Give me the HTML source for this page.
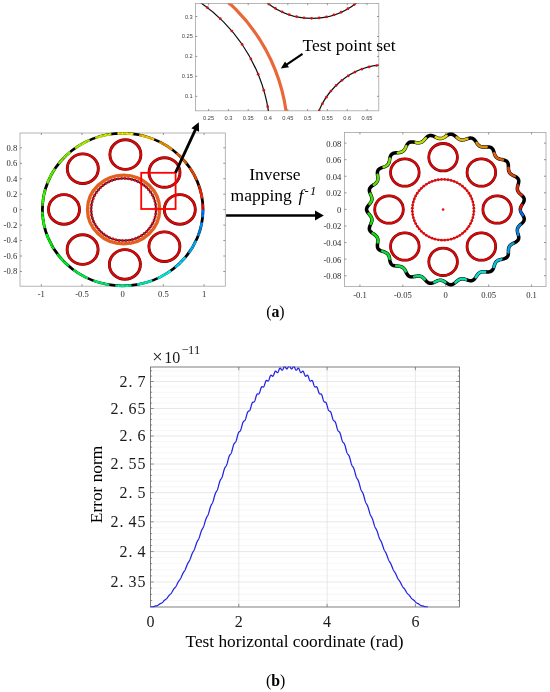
<!DOCTYPE html>
<html lang="en"><head><meta charset="utf-8"><title>Figure</title>
<style>
html,body{margin:0;padding:0;background:#fff;}
body{width:550px;height:692px;overflow:hidden;font-family:"Liberation Serif",serif;}
svg{display:block;}
</style></head><body>
<svg width="550" height="692" viewBox="0 0 550 692">
<rect width="550" height="692" fill="#fff"/>
<g id="left-plot">
<rect x="20" y="133" width="205.3" height="153.2" fill="#fff" stroke="#a4a4a4" stroke-width="0.8"/><path d="M41.3 286.2v-2 M41.3 133v2 M82 286.2v-2 M82 133v2 M122.7 286.2v-2 M122.7 133v2 M163.4 286.2v-2 M163.4 133v2 M204.1 286.2v-2 M204.1 133v2 M20 271.49h2 M225.3 271.49h-2 M20 256.03h2 M225.3 256.03h-2 M20 240.57h2 M225.3 240.57h-2 M20 225.11h2 M225.3 225.11h-2 M20 209.65h2 M225.3 209.65h-2 M20 194.19h2 M225.3 194.19h-2 M20 178.73h2 M225.3 178.73h-2 M20 163.27h2 M225.3 163.27h-2 M20 147.81h2 M225.3 147.81h-2" stroke="#7a7a7a" stroke-width="0.8" fill="none"/>
<g font-family="'Liberation Serif', serif" font-size="8.6" fill="#2a2a2a">
<text x="41.3" y="297.4" text-anchor="middle">-1</text>
<text x="82" y="297.4" text-anchor="middle">-0.5</text>
<text x="122.7" y="297.4" text-anchor="middle">0</text>
<text x="163.4" y="297.4" text-anchor="middle">0.5</text>
<text x="204.1" y="297.4" text-anchor="middle">1</text>
<text x="17.2" y="274.39" text-anchor="end">-0.8</text>
<text x="17.2" y="258.93" text-anchor="end">-0.6</text>
<text x="17.2" y="243.47" text-anchor="end">-0.4</text>
<text x="17.2" y="228.01" text-anchor="end">-0.2</text>
<text x="17.2" y="212.55" text-anchor="end">0</text>
<text x="17.2" y="197.09" text-anchor="end">0.2</text>
<text x="17.2" y="181.63" text-anchor="end">0.4</text>
<text x="17.2" y="166.17" text-anchor="end">0.6</text>
<text x="17.2" y="150.71" text-anchor="end">0.8</text>
</g>
<ellipse cx="122.7" cy="209.65" rx="80.3" ry="76.2" fill="none" stroke="#000" stroke-width="2.8"/>
<path d="M42.43 211.7 L42.49 213.35 L42.6 215.01 L42.74 216.66 L42.92 218.3 L43.14 219.95 L43.39 221.58 L43.68 223.22 L44.01 224.84 L44.38 226.46 L44.78 228.07" fill="none" stroke="#14ff00" stroke-width="2.5" stroke-dasharray="1.15 0.15"/>
<path d="M46.59 233.93 L47.16 235.49 L47.76 237.03 L48.41 238.56 L49.08 240.08 L49.79 241.58 L50.53 243.07 L51.31 244.54 L52.12 245.99 L52.96 247.43 L53.84 248.84" fill="none" stroke="#00ff09" stroke-width="2.5" stroke-dasharray="1.15 0.15"/>
<path d="M57.33 253.91 L58.35 255.23 L59.39 256.52 L60.46 257.8 L61.56 259.05 L62.69 260.28 L63.84 261.48 L65.02 262.66 L66.22 263.81 L67.45 264.94 L68.7 266.04" fill="none" stroke="#00ff26" stroke-width="2.5" stroke-dasharray="1.15 0.15"/>
<path d="M73.51 269.88 L74.86 270.85 L76.24 271.8 L77.63 272.71 L79.03 273.6 L80.46 274.45 L81.9 275.28 L83.36 276.08 L84.83 276.84 L86.32 277.58 L87.82 278.29" fill="none" stroke="#00ff49" stroke-width="2.5" stroke-dasharray="1.15 0.15"/>
<path d="M93.48 280.63 L95.03 281.18 L96.6 281.71 L98.17 282.21 L99.75 282.67 L101.34 283.11 L102.94 283.51 L104.54 283.88 L106.14 284.21 L107.75 284.52 L109.37 284.79" fill="none" stroke="#00ff6f" stroke-width="2.5" stroke-dasharray="1.15 0.15"/>
<path d="M115.35 285.53 L116.97 285.66 L118.59 285.75 L120.21 285.81 L121.83 285.85 L123.44 285.85 L125.05 285.82 L126.66 285.76 L128.26 285.67 L129.86 285.55 L131.45 285.4" fill="none" stroke="#00ff96" stroke-width="2.5" stroke-dasharray="1.15 0.15"/>
<path d="M137.28 284.58 L138.84 284.29 L140.39 283.98 L141.93 283.63 L143.46 283.26 L144.97 282.86 L146.48 282.43 L147.97 281.98 L149.46 281.5 L150.93 280.99 L152.38 280.45" fill="none" stroke="#00ffc2" stroke-width="2.5" stroke-dasharray="1.15 0.15"/>
<path d="M157.64 278.26 L159.03 277.6 L160.4 276.93 L161.76 276.23 L163.1 275.5 L164.42 274.76 L165.72 273.99 L167.01 273.2 L168.28 272.39 L169.53 271.55 L170.76 270.7" fill="none" stroke="#00fff2" stroke-width="2.5" stroke-dasharray="1.15 0.15"/>
<path d="M175.14 267.36 L176.28 266.41 L177.39 265.44 L178.49 264.46 L179.56 263.45 L180.62 262.43 L181.65 261.39 L182.66 260.34 L183.64 259.27 L184.61 258.18 L185.55 257.08" fill="none" stroke="#00dcff" stroke-width="2.5" stroke-dasharray="1.15 0.15"/>
<path d="M188.83 252.88 L189.66 251.71 L190.47 250.53 L191.25 249.33 L192.01 248.12 L192.75 246.91 L193.46 245.68 L194.15 244.43 L194.81 243.18 L195.44 241.92 L196.05 240.65" fill="none" stroke="#00b7ff" stroke-width="2.5" stroke-dasharray="1.15 0.15"/>
<path d="M198.1 235.87 L198.59 234.56 L199.06 233.24 L199.5 231.91 L199.91 230.58 L200.3 229.24 L200.66 227.9 L201 226.55 L201.31 225.19 L201.6 223.83 L201.86 222.47" fill="none" stroke="#0093ff" stroke-width="2.5" stroke-dasharray="1.15 0.15"/>
<path d="M202.58 217.4 L202.66 216.63 L202.73 215.86 L202.8 215.08 L202.85 214.31 L202.9 213.53 L202.93 212.76 L202.96 211.99 L202.98 211.21 L203 210.44 L203 209.66" fill="none" stroke="#0075ff" stroke-width="2.5" stroke-dasharray="1.15 0.15"/>
<path d="M203 209.64 L203 209.03 L202.99 208.43 L202.98 207.82 L202.96 207.22 L202.94 206.61 L202.91 206.01 L202.88 205.4 L202.84 204.8 L202.79 204.19 L202.75 203.59" fill="none" stroke="#ff0d00" stroke-width="2.5" stroke-dasharray="1.15 0.15"/>
<path d="M202.14 198.5 L201.91 197.14 L201.66 195.77 L201.38 194.41 L201.07 193.06 L200.74 191.71 L200.38 190.36 L200 189.02 L199.59 187.69 L199.16 186.36 L198.7 185.04" fill="none" stroke="#ff2700" stroke-width="2.5" stroke-dasharray="1.15 0.15"/>
<path d="M196.77 180.22 L196.19 178.94 L195.58 177.66 L194.95 176.4 L194.3 175.15 L193.62 173.9 L192.91 172.67 L192.18 171.45 L191.43 170.24 L190.65 169.04 L189.85 167.86" fill="none" stroke="#ff4800" stroke-width="2.5" stroke-dasharray="1.15 0.15"/>
<path d="M186.67 163.59 L185.76 162.47 L184.82 161.36 L183.86 160.27 L182.88 159.2 L181.88 158.14 L180.85 157.1 L179.8 156.08 L178.73 155.07 L177.64 154.08 L176.53 153.11" fill="none" stroke="#ff6a00" stroke-width="2.5" stroke-dasharray="1.15 0.15"/>
<path d="M172.24 149.68 L171.03 148.8 L169.81 147.94 L168.56 147.1 L167.3 146.28 L166.01 145.49 L164.71 144.71 L163.4 143.96 L162.06 143.23 L160.71 142.53 L159.34 141.85" fill="none" stroke="#ff9c00" stroke-width="2.5" stroke-dasharray="1.15 0.15"/>
<path d="M154.15 139.54 L152.71 138.97 L151.25 138.43 L149.79 137.92 L148.31 137.43 L146.82 136.97 L145.31 136.53 L143.8 136.13 L142.27 135.75 L140.74 135.4 L139.19 135.07" fill="none" stroke="#ffce00" stroke-width="2.5" stroke-dasharray="1.15 0.15"/>
<path d="M133.4 134.13 L131.81 133.94 L130.22 133.79 L128.63 133.66 L127.02 133.56 L125.42 133.49 L123.81 133.46 L122.19 133.45 L120.58 133.48 L118.96 133.53 L117.34 133.62" fill="none" stroke="#fffe00" stroke-width="2.5" stroke-dasharray="1.15 0.15"/>
<path d="M111.35 134.22 L109.73 134.45 L108.12 134.72 L106.51 135.02 L104.9 135.35 L103.3 135.71 L101.7 136.1 L100.11 136.53 L98.53 136.98 L96.95 137.47 L95.39 137.99" fill="none" stroke="#d9ff00" stroke-width="2.5" stroke-dasharray="1.15 0.15"/>
<path d="M89.68 140.19 L88.16 140.86 L86.66 141.56 L85.17 142.29 L83.69 143.05 L82.23 143.84 L80.78 144.66 L79.35 145.51 L77.94 146.39 L76.55 147.29 L75.17 148.23" fill="none" stroke="#b2ff00" stroke-width="2.5" stroke-dasharray="1.15 0.15"/>
<path d="M70.26 151.94 L68.98 153.01 L67.73 154.11 L66.49 155.23 L65.29 156.38 L64.1 157.55 L62.94 158.75 L61.81 159.97 L60.71 161.22 L59.63 162.49 L58.58 163.78" fill="none" stroke="#8bff00" stroke-width="2.5" stroke-dasharray="1.15 0.15"/>
<path d="M54.95 168.75 L54.04 170.14 L53.16 171.55 L52.31 172.98 L51.49 174.43 L50.71 175.9 L49.96 177.38 L49.24 178.88 L48.55 180.39 L47.91 181.92 L47.29 183.46" fill="none" stroke="#61ff00" stroke-width="2.5" stroke-dasharray="1.15 0.15"/>
<path d="M45.32 189.28 L44.88 190.87 L44.47 192.48 L44.09 194.09 L43.75 195.72 L43.45 197.35 L43.19 198.98 L42.97 200.63 L42.78 202.27 L42.63 203.92 L42.51 205.57" fill="none" stroke="#38ff00" stroke-width="2.5" stroke-dasharray="1.15 0.15"/>
<ellipse cx="125.4" cy="154.6" rx="15.5" ry="14.8" fill="none" stroke="#6a0000" stroke-width="2.9"/>
<ellipse cx="125.4" cy="154.6" rx="15.5" ry="14.8" fill="none" stroke="#d40a0a" stroke-width="2.1"/>
<ellipse cx="82.8" cy="168.7" rx="15.5" ry="14.8" fill="none" stroke="#6a0000" stroke-width="2.9"/>
<ellipse cx="82.8" cy="168.7" rx="15.5" ry="14.8" fill="none" stroke="#d40a0a" stroke-width="2.1"/>
<ellipse cx="64" cy="209.4" rx="15.5" ry="14.8" fill="none" stroke="#6a0000" stroke-width="2.9"/>
<ellipse cx="64" cy="209.4" rx="15.5" ry="14.8" fill="none" stroke="#d40a0a" stroke-width="2.1"/>
<ellipse cx="82.6" cy="249.6" rx="15.5" ry="14.8" fill="none" stroke="#6a0000" stroke-width="2.9"/>
<ellipse cx="82.6" cy="249.6" rx="15.5" ry="14.8" fill="none" stroke="#d40a0a" stroke-width="2.1"/>
<ellipse cx="124.9" cy="264.4" rx="15.5" ry="14.8" fill="none" stroke="#6a0000" stroke-width="2.9"/>
<ellipse cx="124.9" cy="264.4" rx="15.5" ry="14.8" fill="none" stroke="#d40a0a" stroke-width="2.1"/>
<ellipse cx="164.4" cy="246.7" rx="15.5" ry="14.8" fill="none" stroke="#6a0000" stroke-width="2.9"/>
<ellipse cx="164.4" cy="246.7" rx="15.5" ry="14.8" fill="none" stroke="#d40a0a" stroke-width="2.1"/>
<ellipse cx="179.8" cy="209.4" rx="15.5" ry="14.8" fill="none" stroke="#6a0000" stroke-width="2.9"/>
<ellipse cx="179.8" cy="209.4" rx="15.5" ry="14.8" fill="none" stroke="#d40a0a" stroke-width="2.1"/>
<ellipse cx="164.5" cy="172.5" rx="15.5" ry="14.8" fill="none" stroke="#6a0000" stroke-width="2.9"/>
<ellipse cx="164.5" cy="172.5" rx="15.5" ry="14.8" fill="none" stroke="#d40a0a" stroke-width="2.1"/>
<ellipse cx="123.6" cy="209.5" rx="36.1" ry="34.3" fill="none" stroke="#e2611f" stroke-width="3.3"/>
<ellipse cx="123.6" cy="209.5" rx="32.5" ry="31.2" fill="none" stroke="#14143c" stroke-width="1.8"/>
<ellipse cx="123.6" cy="209.5" rx="32.5" ry="31.2" fill="none" stroke="#e01010" stroke-width="2.9" stroke-dasharray="1.9 1.44"/>
<rect x="141.2" y="172.8" width="34.4" height="36.2" fill="none" stroke="#f00" stroke-width="1.8"/>
</g>
<g id="inset">
<clipPath id="ic"><rect x="195.5" y="3.4" width="183.3" height="107.4"/></clipPath>
<rect x="195.5" y="3.4" width="183.3" height="107.4" fill="#fff" stroke="#a4a4a4" stroke-width="0.8"/><path d="M208.6 110.8v-1.8 M208.6 3.4v1.8 M228.4 110.8v-1.8 M228.4 3.4v1.8 M248.2 110.8v-1.8 M248.2 3.4v1.8 M268 110.8v-1.8 M268 3.4v1.8 M287.8 110.8v-1.8 M287.8 3.4v1.8 M307.6 110.8v-1.8 M307.6 3.4v1.8 M327.4 110.8v-1.8 M327.4 3.4v1.8 M347.2 110.8v-1.8 M347.2 3.4v1.8 M367 110.8v-1.8 M367 3.4v1.8 M195.5 96.3h1.8 M378.8 96.3h-1.8 M195.5 76.35h1.8 M378.8 76.35h-1.8 M195.5 56.4h1.8 M378.8 56.4h-1.8 M195.5 36.45h1.8 M378.8 36.45h-1.8 M195.5 16.5h1.8 M378.8 16.5h-1.8" stroke="#7a7a7a" stroke-width="0.8" fill="none"/>
<g font-family="'Liberation Sans', sans-serif" font-size="5.7" fill="#444">
<text x="208.6" y="119.6" text-anchor="middle">0.25</text>
<text x="228.4" y="119.6" text-anchor="middle">0.3</text>
<text x="248.2" y="119.6" text-anchor="middle">0.35</text>
<text x="268" y="119.6" text-anchor="middle">0.4</text>
<text x="287.8" y="119.6" text-anchor="middle">0.45</text>
<text x="307.6" y="119.6" text-anchor="middle">0.5</text>
<text x="327.4" y="119.6" text-anchor="middle">0.55</text>
<text x="347.2" y="119.6" text-anchor="middle">0.6</text>
<text x="367" y="119.6" text-anchor="middle">0.65</text>
<text x="192.8" y="98.3" text-anchor="end">0.1</text>
<text x="192.8" y="78.35" text-anchor="end">0.15</text>
<text x="192.8" y="58.4" text-anchor="end">0.2</text>
<text x="192.8" y="38.45" text-anchor="end">0.25</text>
<text x="192.8" y="18.5" text-anchor="end">0.3</text>
</g>
<g clip-path="url(#ic)">
<ellipse cx="109.6" cy="136.2" rx="160.78" ry="161.99" fill="none" stroke="#111" stroke-width="1.2"/><circle cx="267.68" cy="106.68" r="1.35" fill="#d41212"/><circle cx="263.76" cy="90.19" r="1.35" fill="#d41212"/><circle cx="258.14" cy="74.21" r="1.35" fill="#d41212"/><circle cx="250.89" cy="58.9" r="1.35" fill="#d41212"/><circle cx="242.1" cy="44.45" r="1.35" fill="#d41212"/><circle cx="231.86" cy="30.99" r="1.35" fill="#d41212"/><circle cx="220.27" cy="18.69" r="1.35" fill="#d41212"/><circle cx="207.47" cy="7.68" r="1.35" fill="#d41212"/>
<ellipse cx="109.6" cy="136.2" rx="178.2" ry="179.55" fill="none" stroke="#e8683a" stroke-width="3.2"/>
<ellipse cx="311.96" cy="-54.72" rx="72.47" ry="73.02" fill="none" stroke="#111" stroke-width="1.2"/><circle cx="269.05" cy="4.12" r="1.35" fill="#d41212"/><circle cx="275.39" cy="8.32" r="1.35" fill="#d41212"/><circle cx="282.13" cy="11.83" r="1.35" fill="#d41212"/><circle cx="289.2" cy="14.6" r="1.35" fill="#d41212"/><circle cx="296.52" cy="16.62" r="1.35" fill="#d41212"/><circle cx="304" cy="17.85" r="1.35" fill="#d41212"/><circle cx="311.58" cy="18.29" r="1.35" fill="#d41212"/><circle cx="319.15" cy="17.93" r="1.35" fill="#d41212"/><circle cx="326.65" cy="16.78" r="1.35" fill="#d41212"/><circle cx="333.99" cy="14.84" r="1.35" fill="#d41212"/><circle cx="341.08" cy="12.14" r="1.35" fill="#d41212"/><circle cx="347.86" cy="8.7" r="1.35" fill="#d41212"/><circle cx="354.24" cy="4.57" r="1.35" fill="#d41212"/>
<ellipse cx="386.8" cy="138.19" rx="72.86" ry="73.42" fill="none" stroke="#111" stroke-width="1.2"/><circle cx="376.66" cy="65.49" r="1.35" fill="#d41212"/><circle cx="369.17" cy="66.96" r="1.35" fill="#d41212"/><circle cx="361.88" cy="69.21" r="1.35" fill="#d41212"/><circle cx="354.86" cy="72.21" r="1.35" fill="#d41212"/><circle cx="348.19" cy="75.93" r="1.35" fill="#d41212"/><circle cx="341.94" cy="80.34" r="1.35" fill="#d41212"/><circle cx="336.18" cy="85.38" r="1.35" fill="#d41212"/><circle cx="330.98" cy="91" r="1.35" fill="#d41212"/><circle cx="326.39" cy="97.14" r="1.35" fill="#d41212"/><circle cx="322.46" cy="103.73" r="1.35" fill="#d41212"/><circle cx="319.24" cy="110.69" r="1.35" fill="#d41212"/>
</g>
</g>
<g id="right-plot">
<rect x="344.5" y="132.5" width="201.5" height="154" fill="#fff" stroke="#a4a4a4" stroke-width="0.8"/><path d="M359.95 286.5v-2 M359.95 132.5v2 M402.85 286.5v-2 M402.85 132.5v2 M445.75 286.5v-2 M445.75 132.5v2 M488.65 286.5v-2 M488.65 132.5v2 M531.55 286.5v-2 M531.55 132.5v2 M344.5 275.72h2 M546 275.72h-2 M344.5 259.14h2 M546 259.14h-2 M344.5 242.56h2 M546 242.56h-2 M344.5 225.98h2 M546 225.98h-2 M344.5 209.4h2 M546 209.4h-2 M344.5 192.82h2 M546 192.82h-2 M344.5 176.24h2 M546 176.24h-2 M344.5 159.66h2 M546 159.66h-2 M344.5 143.08h2 M546 143.08h-2" stroke="#7a7a7a" stroke-width="0.8" fill="none"/>
<g font-family="'Liberation Serif', serif" font-size="8.6" fill="#2a2a2a">
<text x="359.95" y="297.6" text-anchor="middle">-0.1</text>
<text x="402.85" y="297.6" text-anchor="middle">-0.05</text>
<text x="445.75" y="297.6" text-anchor="middle">0</text>
<text x="488.65" y="297.6" text-anchor="middle">0.05</text>
<text x="531.55" y="297.6" text-anchor="middle">0.1</text>
<text x="341.4" y="279.22" text-anchor="end">-0.08</text>
<text x="341.4" y="262.64" text-anchor="end">-0.06</text>
<text x="341.4" y="246.06" text-anchor="end">-0.04</text>
<text x="341.4" y="229.48" text-anchor="end">-0.02</text>
<text x="341.4" y="212.9" text-anchor="end">0</text>
<text x="341.4" y="196.32" text-anchor="end">0.02</text>
<text x="341.4" y="179.74" text-anchor="end">0.04</text>
<text x="341.4" y="163.16" text-anchor="end">0.06</text>
<text x="341.4" y="146.58" text-anchor="end">0.08</text>
</g>
<path d="M520.31 209.4 L520.35 208.78 L520.46 208.16 L520.64 207.53 L520.88 206.9 L521.19 206.26 L521.54 205.62 L521.94 204.96 L522.35 204.3 L522.77 203.63 L523.17 202.95 L523.53 202.26 L523.84 201.58 L524.07 200.9 L524.21 200.22 L524.24 199.56 L524.17 198.9 L523.98 198.26 L523.68 197.64 L523.3 197.04 L522.83 196.45 L522.3 195.88 L521.73 195.33 L521.13 194.79 L520.54 194.25 L519.97 193.72 L519.43 193.19 L518.94 192.66 L518.51 192.12 L518.14 191.57 L517.83 191 L517.6 190.42 L517.44 189.82 L517.35 189.2 L517.33 188.55 L517.37 187.89 L517.46 187.2 L517.61 186.49 L517.79 185.77 L518 185.03 L518.21 184.27 L518.41 183.52 L518.59 182.76 L518.71 182.02 L518.76 181.3 L518.73 180.6 L518.6 179.94 L518.38 179.32 L518.04 178.74 L517.61 178.2 L517.09 177.71 L516.5 177.25 L515.84 176.83 L515.14 176.44 L514.42 176.07 L513.7 175.7 L512.99 175.34 L512.31 174.97 L511.67 174.59 L511.08 174.18 L510.55 173.76 L510.08 173.3 L509.67 172.81 L509.33 172.28 L509.05 171.72 L508.82 171.12 L508.66 170.48 L508.54 169.81 L508.47 169.1 L508.43 168.36 L508.42 167.6 L508.41 166.82 L508.4 166.04 L508.36 165.26 L508.28 164.51 L508.15 163.79 L507.94 163.11 L507.66 162.48 L507.29 161.92 L506.84 161.43 L506.29 161 L505.67 160.64 L504.99 160.34 L504.25 160.09 L503.47 159.88 L502.68 159.7 L501.88 159.54 L501.09 159.37 L500.32 159.2 L499.59 159 L498.89 158.77 L498.24 158.51 L497.64 158.21 L497.1 157.85 L496.6 157.45 L496.15 157 L495.76 156.49 L495.4 155.93 L495.09 155.33 L494.81 154.68 L494.56 153.98 L494.33 153.26 L494.1 152.52 L493.87 151.77 L493.62 151.03 L493.34 150.31 L493.02 149.64 L492.65 149.01 L492.22 148.46 L491.73 147.99 L491.17 147.61 L490.54 147.31 L489.86 147.1 L489.13 146.96 L488.36 146.9 L487.56 146.88 L486.74 146.9 L485.92 146.94 L485.11 146.99 L484.32 147.03 L483.54 147.04 L482.8 147.01 L482.09 146.94 L481.42 146.81 L480.78 146.63 L480.18 146.39 L479.61 146.09 L479.07 145.72 L478.57 145.3 L478.09 144.81 L477.63 144.27 L477.19 143.68 L476.76 143.06 L476.33 142.4 L475.9 141.74 L475.45 141.09 L474.99 140.45 L474.5 139.87 L473.98 139.34 L473.42 138.9 L472.82 138.54 L472.18 138.28 L471.51 138.13 L470.8 138.07 L470.07 138.1 L469.31 138.21 L468.54 138.39 L467.76 138.61 L466.98 138.86 L466.21 139.11 L465.45 139.36 L464.71 139.57 L463.98 139.75 L463.27 139.88 L462.58 139.96 L461.91 139.97 L461.25 139.91 L460.62 139.79 L459.99 139.59 L459.38 139.33 L458.78 139.01 L458.18 138.62 L457.59 138.18 L457 137.7 L456.4 137.19 L455.8 136.66 L455.19 136.14 L454.57 135.64 L453.94 135.18 L453.29 134.79 L452.63 134.48 L451.96 134.26 L451.27 134.14 L450.58 134.13 L449.89 134.23 L449.19 134.42 L448.49 134.7 L447.79 135.05 L447.1 135.45 L446.42 135.88 L445.75 136.32 L445.08 136.76 L444.43 137.17 L443.77 137.55 L443.13 137.87 L442.48 138.14 L441.84 138.34 L441.2 138.48 L440.55 138.54 L439.9 138.54 L439.24 138.46 L438.57 138.32 L437.89 138.12 L437.19 137.87 L436.49 137.57 L435.78 137.23 L435.05 136.88 L434.32 136.53 L433.58 136.2 L432.84 135.91 L432.1 135.68 L431.38 135.52 L430.66 135.45 L429.96 135.48 L429.29 135.62 L428.64 135.86 L428.01 136.2 L427.41 136.62 L426.83 137.12 L426.28 137.67 L425.74 138.25 L425.21 138.85 L424.7 139.45 L424.18 140.02 L423.66 140.56 L423.13 141.06 L422.59 141.5 L422.03 141.88 L421.46 142.19 L420.86 142.44 L420.24 142.63 L419.59 142.74 L418.91 142.8 L418.21 142.8 L417.48 142.74 L416.73 142.65 L415.95 142.52 L415.16 142.37 L414.35 142.22 L413.55 142.08 L412.75 141.98 L411.97 141.92 L411.21 141.93 L410.49 142.02 L409.81 142.21 L409.18 142.48 L408.61 142.85 L408.09 143.31 L407.61 143.85 L407.19 144.46 L406.8 145.12 L406.44 145.82 L406.1 146.53 L405.77 147.24 L405.43 147.93 L405.09 148.6 L404.73 149.22 L404.34 149.8 L403.93 150.33 L403.47 150.8 L402.98 151.21 L402.45 151.56 L401.87 151.86 L401.25 152.1 L400.58 152.3 L399.87 152.44 L399.13 152.55 L398.35 152.64 L397.55 152.7 L396.74 152.76 L395.92 152.83 L395.12 152.92 L394.34 153.06 L393.6 153.24 L392.91 153.49 L392.29 153.82 L391.74 154.22 L391.27 154.7 L390.87 155.26 L390.55 155.89 L390.29 156.57 L390.09 157.29 L389.93 158.05 L389.8 158.82 L389.68 159.59 L389.56 160.35 L389.43 161.09 L389.27 161.79 L389.07 162.46 L388.83 163.09 L388.54 163.67 L388.2 164.21 L387.8 164.7 L387.35 165.14 L386.84 165.55 L386.27 165.92 L385.65 166.25 L384.97 166.56 L384.26 166.84 L383.51 167.11 L382.75 167.37 L381.98 167.65 L381.23 167.94 L380.5 168.26 L379.82 168.61 L379.21 169.02 L378.68 169.47 L378.23 169.98 L377.88 170.55 L377.63 171.17 L377.47 171.85 L377.4 172.56 L377.39 173.3 L377.44 174.06 L377.52 174.84 L377.62 175.61 L377.72 176.38 L377.81 177.13 L377.87 177.86 L377.88 178.56 L377.85 179.23 L377.75 179.88 L377.6 180.49 L377.37 181.08 L377.08 181.63 L376.73 182.16 L376.3 182.67 L375.81 183.16 L375.27 183.63 L374.68 184.08 L374.04 184.54 L373.39 184.99 L372.72 185.44 L372.07 185.91 L371.45 186.4 L370.88 186.91 L370.38 187.45 L369.96 188.01 L369.65 188.61 L369.44 189.24 L369.34 189.9 L369.35 190.58 L369.45 191.28 L369.63 191.99 L369.88 192.71 L370.17 193.44 L370.48 194.16 L370.8 194.87 L371.1 195.58 L371.38 196.27 L371.61 196.95 L371.78 197.61 L371.89 198.26 L371.94 198.89 L371.91 199.51 L371.81 200.13 L371.64 200.73 L371.39 201.33 L371.08 201.92 L370.71 202.52 L370.28 203.11 L369.81 203.71 L369.31 204.31 L368.8 204.92 L368.3 205.53 L367.82 206.16 L367.4 206.79 L367.05 207.44 L366.78 208.09 L366.61 208.74 L366.56 209.4 L366.61 210.06 L366.78 210.71 L367.05 211.36 L367.4 212.01 L367.82 212.64 L368.3 213.27 L368.8 213.88 L369.31 214.49 L369.81 215.09 L370.28 215.69 L370.71 216.28 L371.08 216.88 L371.39 217.47 L371.64 218.07 L371.81 218.67 L371.91 219.29 L371.94 219.91 L371.89 220.54 L371.78 221.19 L371.61 221.85 L371.38 222.53 L371.1 223.22 L370.8 223.93 L370.48 224.64 L370.17 225.36 L369.88 226.09 L369.63 226.81 L369.45 227.52 L369.35 228.22 L369.34 228.9 L369.44 229.56 L369.65 230.19 L369.96 230.79 L370.38 231.35 L370.88 231.89 L371.45 232.4 L372.07 232.89 L372.72 233.36 L373.39 233.81 L374.04 234.26 L374.68 234.72 L375.27 235.17 L375.81 235.64 L376.3 236.13 L376.73 236.64 L377.08 237.17 L377.37 237.72 L377.6 238.31 L377.75 238.92 L377.85 239.57 L377.88 240.24 L377.87 240.94 L377.81 241.67 L377.72 242.42 L377.62 243.19 L377.52 243.96 L377.44 244.74 L377.39 245.5 L377.4 246.24 L377.47 246.95 L377.63 247.63 L377.88 248.25 L378.23 248.82 L378.68 249.33 L379.21 249.78 L379.82 250.19 L380.5 250.54 L381.23 250.86 L381.98 251.15 L382.75 251.43 L383.51 251.69 L384.26 251.96 L384.97 252.24 L385.65 252.55 L386.27 252.88 L386.84 253.25 L387.35 253.66 L387.8 254.1 L388.2 254.59 L388.54 255.13 L388.83 255.71 L389.07 256.34 L389.27 257.01 L389.43 257.71 L389.56 258.45 L389.68 259.21 L389.8 259.98 L389.93 260.75 L390.09 261.51 L390.29 262.23 L390.55 262.91 L390.87 263.54 L391.27 264.1 L391.74 264.58 L392.29 264.98 L392.91 265.31 L393.6 265.56 L394.34 265.74 L395.12 265.88 L395.92 265.97 L396.74 266.04 L397.55 266.1 L398.35 266.16 L399.13 266.25 L399.87 266.36 L400.58 266.5 L401.25 266.7 L401.87 266.94 L402.45 267.24 L402.98 267.59 L403.47 268 L403.93 268.47 L404.34 269 L404.73 269.58 L405.09 270.2 L405.43 270.87 L405.77 271.56 L406.1 272.27 L406.44 272.98 L406.8 273.68 L407.19 274.34 L407.61 274.95 L408.09 275.49 L408.61 275.95 L409.18 276.32 L409.81 276.59 L410.49 276.78 L411.21 276.87 L411.97 276.88 L412.75 276.82 L413.55 276.72 L414.35 276.58 L415.16 276.43 L415.95 276.28 L416.73 276.15 L417.48 276.06 L418.21 276 L418.91 276 L419.59 276.06 L420.24 276.17 L420.86 276.36 L421.46 276.61 L422.03 276.92 L422.59 277.3 L423.13 277.74 L423.66 278.24 L424.18 278.78 L424.7 279.35 L425.21 279.95 L425.74 280.55 L426.28 281.13 L426.83 281.68 L427.41 282.18 L428.01 282.6 L428.64 282.94 L429.29 283.18 L429.96 283.32 L430.66 283.35 L431.38 283.28 L432.1 283.12 L432.84 282.89 L433.58 282.6 L434.32 282.27 L435.05 281.92 L435.78 281.57 L436.49 281.23 L437.19 280.93 L437.89 280.68 L438.57 280.48 L439.24 280.34 L439.9 280.26 L440.55 280.26 L441.2 280.32 L441.84 280.46 L442.48 280.66 L443.13 280.93 L443.77 281.25 L444.43 281.63 L445.08 282.04 L445.75 282.48 L446.42 282.92 L447.1 283.35 L447.79 283.75 L448.49 284.1 L449.19 284.38 L449.89 284.57 L450.58 284.67 L451.27 284.66 L451.96 284.54 L452.63 284.32 L453.29 284.01 L453.94 283.62 L454.57 283.16 L455.19 282.66 L455.8 282.14 L456.4 281.61 L457 281.1 L457.59 280.62 L458.18 280.18 L458.78 279.79 L459.38 279.47 L459.99 279.21 L460.62 279.01 L461.25 278.89 L461.91 278.83 L462.58 278.84 L463.27 278.92 L463.98 279.05 L464.71 279.23 L465.45 279.44 L466.21 279.69 L466.98 279.94 L467.76 280.19 L468.54 280.41 L469.31 280.59 L470.07 280.7 L470.8 280.73 L471.51 280.67 L472.18 280.52 L472.82 280.26 L473.42 279.9 L473.98 279.46 L474.5 278.93 L474.99 278.35 L475.45 277.71 L475.9 277.06 L476.33 276.4 L476.76 275.74 L477.19 275.12 L477.63 274.53 L478.09 273.99 L478.57 273.5 L479.07 273.08 L479.61 272.71 L480.18 272.41 L480.78 272.17 L481.42 271.99 L482.09 271.86 L482.8 271.79 L483.54 271.76 L484.32 271.77 L485.11 271.81 L485.92 271.86 L486.74 271.9 L487.56 271.92 L488.36 271.9 L489.13 271.84 L489.86 271.7 L490.54 271.49 L491.17 271.19 L491.73 270.81 L492.22 270.34 L492.65 269.79 L493.02 269.16 L493.34 268.49 L493.62 267.77 L493.87 267.03 L494.1 266.28 L494.33 265.54 L494.56 264.82 L494.81 264.12 L495.09 263.47 L495.4 262.87 L495.76 262.31 L496.15 261.8 L496.6 261.35 L497.1 260.95 L497.64 260.59 L498.24 260.29 L498.89 260.03 L499.59 259.8 L500.32 259.6 L501.09 259.43 L501.88 259.26 L502.68 259.1 L503.47 258.92 L504.25 258.71 L504.99 258.46 L505.67 258.16 L506.29 257.8 L506.84 257.37 L507.29 256.88 L507.66 256.32 L507.94 255.69 L508.15 255.01 L508.28 254.29 L508.36 253.54 L508.4 252.76 L508.41 251.98 L508.42 251.2 L508.43 250.44 L508.47 249.7 L508.54 248.99 L508.66 248.32 L508.82 247.68 L509.05 247.08 L509.33 246.52 L509.67 245.99 L510.08 245.5 L510.55 245.04 L511.08 244.62 L511.67 244.21 L512.31 243.83 L512.99 243.46 L513.7 243.1 L514.42 242.73 L515.14 242.36 L515.84 241.97 L516.5 241.55 L517.09 241.09 L517.61 240.6 L518.04 240.06 L518.38 239.48 L518.6 238.86 L518.73 238.2 L518.76 237.5 L518.71 236.78 L518.59 236.04 L518.41 235.28 L518.21 234.53 L518 233.77 L517.79 233.03 L517.61 232.31 L517.46 231.6 L517.37 230.91 L517.33 230.25 L517.35 229.6 L517.44 228.98 L517.6 228.38 L517.83 227.8 L518.14 227.23 L518.51 226.68 L518.94 226.14 L519.43 225.61 L519.97 225.08 L520.54 224.55 L521.13 224.01 L521.73 223.47 L522.3 222.92 L522.83 222.35 L523.3 221.76 L523.68 221.16 L523.98 220.54 L524.17 219.9 L524.24 219.24 L524.21 218.58 L524.07 217.9 L523.84 217.22 L523.53 216.54 L523.17 215.85 L522.77 215.17 L522.35 214.5 L521.94 213.84 L521.54 213.18 L521.19 212.54 L520.88 211.9 L520.64 211.27 L520.46 210.64 L520.35 210.02 L520.31 209.4Z" fill="none" stroke="#000" stroke-width="3.5" stroke-linejoin="round"/>
<path d="M368.56 213.59 L369.39 214.59 L370.19 215.57 L370.88 216.54 L371.42 217.52 L371.77 218.5 L371.93 219.5 L371.89 220.54 L371.68 221.61 L371.31 222.71 L370.83 223.86" fill="none" stroke="#1bdd0b" stroke-width="2.5" stroke-linecap="round"/>
<path d="M372.61 233.27 L373.69 234.02 L374.74 234.76 L375.68 235.52 L376.47 236.32 L377.09 237.18 L377.53 238.1 L377.79 239.11 L377.88 240.19 L377.84 241.35 L377.7 242.58" fill="none" stroke="#0bdd12" stroke-width="2.5" stroke-linecap="round"/>
<path d="M382.08 251.19 L383.34 251.63 L384.55 252.07 L385.67 252.56 L386.66 253.13 L387.5 253.79 L388.19 254.57 L388.72 255.47 L389.12 256.49 L389.41 257.62 L389.62 258.84" fill="none" stroke="#0bdd2b" stroke-width="2.5" stroke-linecap="round"/>
<path d="M396.28 266 L397.61 266.1 L398.91 266.22 L400.13 266.4 L401.24 266.69 L402.23 267.12 L403.11 267.69 L403.88 268.42 L404.56 269.3 L405.15 270.32 L405.71 271.43" fill="none" stroke="#0bdd48" stroke-width="2.5" stroke-linecap="round"/>
<path d="M414.14 276.62 L415.46 276.37 L416.74 276.15 L417.96 276.02 L419.11 276.01 L420.19 276.16 L421.2 276.49 L422.15 277 L423.05 277.67 L423.91 278.49 L424.76 279.42" fill="none" stroke="#0bdd67" stroke-width="2.5" stroke-linecap="round"/>
<path d="M434.35 282.25 L435.55 281.68 L436.72 281.13 L437.86 280.69 L438.97 280.39 L440.05 280.26 L441.11 280.31 L442.17 280.55 L443.22 280.97 L444.29 281.54 L445.37 282.22" fill="none" stroke="#0bdd87" stroke-width="2.5" stroke-linecap="round"/>
<path d="M455.41 282.48 L456.39 281.62 L457.37 280.8 L458.34 280.07 L459.32 279.5 L460.33 279.09 L461.37 278.87 L462.45 278.84 L463.59 278.97 L464.77 279.24 L466 279.62" fill="none" stroke="#0bddac" stroke-width="2.5" stroke-linecap="round"/>
<path d="M475.74 277.29 L476.45 276.21 L477.16 275.16 L477.89 274.22 L478.67 273.41 L479.52 272.76 L480.46 272.28 L481.5 271.97 L482.63 271.8 L483.85 271.76 L485.14 271.81" fill="none" stroke="#0bddd3" stroke-width="2.5" stroke-linecap="round"/>
<path d="M493.86 267.06 L494.23 265.84 L494.62 264.65 L495.05 263.55 L495.58 262.58 L496.22 261.73 L496.99 261.03 L497.89 260.46 L498.93 260.01 L500.1 259.66 L501.35 259.37" fill="none" stroke="#0bc0dd" stroke-width="2.5" stroke-linecap="round"/>
<path d="M508.4 252.56 L508.42 251.28 L508.45 250.04 L508.56 248.87 L508.79 247.8 L509.17 246.82 L509.71 245.95 L510.42 245.16 L511.29 244.46 L512.31 243.83 L513.44 243.23" fill="none" stroke="#0ba1dd" stroke-width="2.5" stroke-linecap="round"/>
<path d="M518.3 234.85 L517.96 233.62 L517.64 232.42 L517.41 231.27 L517.32 230.17 L517.41 229.13 L517.69 228.15 L518.15 227.22 L518.79 226.32 L519.6 225.44 L520.51 224.57" fill="none" stroke="#0b84dd" stroke-width="2.5" stroke-linecap="round"/>
<path d="M522.82 215.26 L522.49 214.73 L522.16 214.2 L521.84 213.68 L521.53 213.16 L521.25 212.65 L520.99 212.14 L520.78 211.64 L520.6 211.14 L520.46 210.65 L520.36 210.16" fill="none" stroke="#0b6bdd" stroke-width="2.5" stroke-linecap="round"/>
<path d="M520.36 208.64 L520.43 208.27 L520.53 207.89 L520.64 207.51 L520.79 207.13 L520.95 206.75 L521.14 206.37 L521.34 205.98 L521.56 205.59 L521.79 205.19 L522.04 204.79" fill="none" stroke="#dd150b" stroke-width="2.5" stroke-linecap="round"/>
<path d="M521.62 195.24 L520.65 194.35 L519.72 193.49 L518.9 192.61 L518.23 191.72 L517.74 190.79 L517.44 189.81 L517.33 188.79 L517.39 187.7 L517.59 186.55 L517.9 185.36" fill="none" stroke="#dd2c0b" stroke-width="2.5" stroke-linecap="round"/>
<path d="M514.8 176.26 L513.62 175.66 L512.47 175.06 L511.44 174.43 L510.54 173.74 L509.8 172.97 L509.23 172.11 L508.83 171.15 L508.58 170.09 L508.46 168.93 L508.42 167.7" fill="none" stroke="#dd470b" stroke-width="2.5" stroke-linecap="round"/>
<path d="M502.85 159.74 L501.54 159.47 L500.28 159.19 L499.1 158.85 L498.04 158.41 L497.11 157.86 L496.32 157.18 L495.66 156.36 L495.12 155.4 L494.67 154.32 L494.29 153.14" fill="none" stroke="#dd630b" stroke-width="2.5" stroke-linecap="round"/>
<path d="M486.67 146.91 L485.33 146.98 L484.03 147.03 L482.8 147.01 L481.66 146.86 L480.61 146.57 L479.66 146.12 L478.79 145.49 L478 144.71 L477.26 143.78 L476.56 142.75" fill="none" stroke="#dd8c0b" stroke-width="2.5" stroke-linecap="round"/>
<path d="M467.46 138.71 L466.19 139.12 L464.95 139.51 L463.76 139.8 L462.62 139.95 L461.52 139.94 L460.48 139.75 L459.47 139.37 L458.48 138.82 L457.51 138.12 L456.54 137.31" fill="none" stroke="#ddb60b" stroke-width="2.5" stroke-linecap="round"/>
<path d="M446.63 135.75 L445.53 136.47 L444.44 137.16 L443.38 137.75 L442.32 138.19 L441.27 138.46 L440.21 138.55 L439.13 138.44 L438.02 138.17 L436.89 137.74 L435.72 137.21" fill="none" stroke="#dddd0b" stroke-width="2.5" stroke-linecap="round"/>
<path d="M425.74 138.25 L424.88 139.23 L424.04 140.18 L423.18 141.02 L422.29 141.72 L421.35 142.25 L420.35 142.6 L419.28 142.78 L418.13 142.79 L416.92 142.67 L415.65 142.46" fill="none" stroke="#bedd0b" stroke-width="2.5" stroke-linecap="round"/>
<path d="M406.33 146.03 L405.78 147.2 L405.24 148.32 L404.65 149.36 L403.99 150.26 L403.23 151.01 L402.37 151.61 L401.39 152.05 L400.3 152.36 L399.09 152.56 L397.81 152.68" fill="none" stroke="#9edd0b" stroke-width="2.5" stroke-linecap="round"/>
<path d="M389.85 158.52 L389.65 159.78 L389.44 161 L389.17 162.15 L388.79 163.18 L388.27 164.1 L387.61 164.9 L386.8 165.58 L385.83 166.16 L384.73 166.66 L383.52 167.11" fill="none" stroke="#7ddd0b" stroke-width="2.5" stroke-linecap="round"/>
<path d="M377.51 174.77 L377.68 176.04 L377.82 177.27 L377.88 178.44 L377.81 179.54 L377.58 180.55 L377.16 181.49 L376.57 182.36 L375.8 183.16 L374.88 183.93 L373.85 184.67" fill="none" stroke="#5bdd0b" stroke-width="2.5" stroke-linecap="round"/>
<path d="M370.23 193.59 L370.76 194.77 L371.24 195.92 L371.63 197.03 L371.87 198.11 L371.94 199.15 L371.8 200.15 L371.48 201.14 L370.97 202.12 L370.3 203.09 L369.51 204.07" fill="none" stroke="#39dd0b" stroke-width="2.5" stroke-linecap="round"/>
<ellipse cx="497.2" cy="209.5" rx="14.3" ry="13.7" fill="none" stroke="#6a0000" stroke-width="2.8"/>
<ellipse cx="497.2" cy="209.5" rx="14.3" ry="13.7" fill="none" stroke="#d40a0a" stroke-width="2.0"/>
<ellipse cx="481.35" cy="172.52" rx="14.3" ry="13.7" fill="none" stroke="#6a0000" stroke-width="2.8"/>
<ellipse cx="481.35" cy="172.52" rx="14.3" ry="13.7" fill="none" stroke="#d40a0a" stroke-width="2.0"/>
<ellipse cx="443.1" cy="157.2" rx="14.3" ry="13.7" fill="none" stroke="#6a0000" stroke-width="2.8"/>
<ellipse cx="443.1" cy="157.2" rx="14.3" ry="13.7" fill="none" stroke="#d40a0a" stroke-width="2.0"/>
<ellipse cx="404.85" cy="172.52" rx="14.3" ry="13.7" fill="none" stroke="#6a0000" stroke-width="2.8"/>
<ellipse cx="404.85" cy="172.52" rx="14.3" ry="13.7" fill="none" stroke="#d40a0a" stroke-width="2.0"/>
<ellipse cx="389" cy="209.5" rx="14.3" ry="13.7" fill="none" stroke="#6a0000" stroke-width="2.8"/>
<ellipse cx="389" cy="209.5" rx="14.3" ry="13.7" fill="none" stroke="#d40a0a" stroke-width="2.0"/>
<ellipse cx="404.85" cy="246.48" rx="14.3" ry="13.7" fill="none" stroke="#6a0000" stroke-width="2.8"/>
<ellipse cx="404.85" cy="246.48" rx="14.3" ry="13.7" fill="none" stroke="#d40a0a" stroke-width="2.0"/>
<ellipse cx="443.1" cy="261.8" rx="14.3" ry="13.7" fill="none" stroke="#6a0000" stroke-width="2.8"/>
<ellipse cx="443.1" cy="261.8" rx="14.3" ry="13.7" fill="none" stroke="#d40a0a" stroke-width="2.0"/>
<ellipse cx="481.35" cy="246.48" rx="14.3" ry="13.7" fill="none" stroke="#6a0000" stroke-width="2.8"/>
<ellipse cx="481.35" cy="246.48" rx="14.3" ry="13.7" fill="none" stroke="#d40a0a" stroke-width="2.0"/>
<ellipse cx="443.1" cy="209.8" rx="30.8" ry="30.4" fill="none" stroke="#b81212" stroke-width="1.3"/>
<circle cx="473.86" cy="208.21" r="1.4" fill="#dc0c0c"/>
<circle cx="473.52" cy="205.04" r="1.4" fill="#dc0c0c"/>
<circle cx="472.85" cy="201.93" r="1.4" fill="#dc0c0c"/>
<circle cx="471.85" cy="198.91" r="1.4" fill="#dc0c0c"/>
<circle cx="470.54" cy="196" r="1.4" fill="#dc0c0c"/>
<circle cx="468.93" cy="193.24" r="1.4" fill="#dc0c0c"/>
<circle cx="467.04" cy="190.67" r="1.4" fill="#dc0c0c"/>
<circle cx="464.88" cy="188.3" r="1.4" fill="#dc0c0c"/>
<circle cx="462.48" cy="186.17" r="1.4" fill="#dc0c0c"/>
<circle cx="459.87" cy="184.3" r="1.4" fill="#dc0c0c"/>
<circle cx="457.08" cy="182.71" r="1.4" fill="#dc0c0c"/>
<circle cx="454.14" cy="181.42" r="1.4" fill="#dc0c0c"/>
<circle cx="451.07" cy="180.44" r="1.4" fill="#dc0c0c"/>
<circle cx="447.92" cy="179.77" r="1.4" fill="#dc0c0c"/>
<circle cx="444.71" cy="179.44" r="1.4" fill="#dc0c0c"/>
<circle cx="441.49" cy="179.44" r="1.4" fill="#dc0c0c"/>
<circle cx="438.28" cy="179.77" r="1.4" fill="#dc0c0c"/>
<circle cx="435.13" cy="180.44" r="1.4" fill="#dc0c0c"/>
<circle cx="432.06" cy="181.42" r="1.4" fill="#dc0c0c"/>
<circle cx="429.12" cy="182.71" r="1.4" fill="#dc0c0c"/>
<circle cx="426.33" cy="184.3" r="1.4" fill="#dc0c0c"/>
<circle cx="423.72" cy="186.17" r="1.4" fill="#dc0c0c"/>
<circle cx="421.32" cy="188.3" r="1.4" fill="#dc0c0c"/>
<circle cx="419.16" cy="190.67" r="1.4" fill="#dc0c0c"/>
<circle cx="417.27" cy="193.24" r="1.4" fill="#dc0c0c"/>
<circle cx="415.66" cy="196" r="1.4" fill="#dc0c0c"/>
<circle cx="414.35" cy="198.91" r="1.4" fill="#dc0c0c"/>
<circle cx="413.35" cy="201.93" r="1.4" fill="#dc0c0c"/>
<circle cx="412.68" cy="205.04" r="1.4" fill="#dc0c0c"/>
<circle cx="412.34" cy="208.21" r="1.4" fill="#dc0c0c"/>
<circle cx="412.34" cy="211.39" r="1.4" fill="#dc0c0c"/>
<circle cx="412.68" cy="214.56" r="1.4" fill="#dc0c0c"/>
<circle cx="413.35" cy="217.67" r="1.4" fill="#dc0c0c"/>
<circle cx="414.35" cy="220.69" r="1.4" fill="#dc0c0c"/>
<circle cx="415.66" cy="223.6" r="1.4" fill="#dc0c0c"/>
<circle cx="417.27" cy="226.36" r="1.4" fill="#dc0c0c"/>
<circle cx="419.16" cy="228.93" r="1.4" fill="#dc0c0c"/>
<circle cx="421.32" cy="231.3" r="1.4" fill="#dc0c0c"/>
<circle cx="423.72" cy="233.43" r="1.4" fill="#dc0c0c"/>
<circle cx="426.33" cy="235.3" r="1.4" fill="#dc0c0c"/>
<circle cx="429.12" cy="236.89" r="1.4" fill="#dc0c0c"/>
<circle cx="432.06" cy="238.18" r="1.4" fill="#dc0c0c"/>
<circle cx="435.13" cy="239.16" r="1.4" fill="#dc0c0c"/>
<circle cx="438.28" cy="239.83" r="1.4" fill="#dc0c0c"/>
<circle cx="441.49" cy="240.16" r="1.4" fill="#dc0c0c"/>
<circle cx="444.71" cy="240.16" r="1.4" fill="#dc0c0c"/>
<circle cx="447.92" cy="239.83" r="1.4" fill="#dc0c0c"/>
<circle cx="451.07" cy="239.16" r="1.4" fill="#dc0c0c"/>
<circle cx="454.14" cy="238.18" r="1.4" fill="#dc0c0c"/>
<circle cx="457.08" cy="236.89" r="1.4" fill="#dc0c0c"/>
<circle cx="459.87" cy="235.3" r="1.4" fill="#dc0c0c"/>
<circle cx="462.48" cy="233.43" r="1.4" fill="#dc0c0c"/>
<circle cx="464.88" cy="231.3" r="1.4" fill="#dc0c0c"/>
<circle cx="467.04" cy="228.93" r="1.4" fill="#dc0c0c"/>
<circle cx="468.93" cy="226.36" r="1.4" fill="#dc0c0c"/>
<circle cx="470.54" cy="223.6" r="1.4" fill="#dc0c0c"/>
<circle cx="471.85" cy="220.69" r="1.4" fill="#dc0c0c"/>
<circle cx="472.85" cy="217.67" r="1.4" fill="#dc0c0c"/>
<circle cx="473.52" cy="214.56" r="1.4" fill="#dc0c0c"/>
<circle cx="473.86" cy="211.39" r="1.4" fill="#dc0c0c"/>
<circle cx="443.1" cy="209.6" r="1.3" fill="#ee1616"/>
</g>
<g id="annot">
<line x1="175.5" y1="172.6" x2="195.44" y2="129.56" stroke="#000" stroke-width="2.8"/><polygon points="198.8,122.3 199.08,131.8 191.37,128.23" fill="#000"/>
<line x1="302.5" y1="53.9" x2="286.61" y2="64.59" stroke="#000" stroke-width="2.2"/><polygon points="280.8,68.5 285.07,61.41 288.98,67.22" fill="#000"/>
<line x1="226.1" y1="215.6" x2="315.5" y2="215.6" stroke="#000" stroke-width="2.5"/><polygon points="323.8,215.6 315,220.6 315,210.6" fill="#000"/>
<g font-family="'Liberation Serif', serif" fill="#000">
<text x="302.5" y="50.8" font-size="17.5">Test point set</text>
<text x="274.9" y="179.9" font-size="17.5" text-anchor="middle">Inverse</text>
<text x="230.6" y="201" font-size="17.5">mapping <tspan font-style="italic" dx="2.3">f</tspan><tspan font-style="italic" font-size="12.5" dy="-6.5" dx="1.2" letter-spacing="1.2">-1</tspan></text>
<text x="275.4" y="317" font-size="15.8" text-anchor="middle">(<tspan font-weight="bold">a</tspan>)</text>
<text x="275.6" y="685.6" font-size="15.8" text-anchor="middle">(<tspan font-weight="bold">b</tspan>)</text>
</g></g>
<g id="bottom-plot">
<rect x="150.5" y="367" width="309" height="240" fill="#fff"/>
<path d="M150.5 600.53H459.5 M150.5 594.32H459.5 M150.5 588.14H459.5 M150.5 575.85H459.5 M150.5 569.74H459.5 M150.5 563.66H459.5 M150.5 557.61H459.5 M150.5 545.57H459.5 M150.5 539.6H459.5 M150.5 533.64H459.5 M150.5 527.71H459.5 M150.5 515.92H459.5 M150.5 510.06H459.5 M150.5 504.23H459.5 M150.5 498.42H459.5 M150.5 486.87H459.5 M150.5 481.13H459.5 M150.5 475.41H459.5 M150.5 469.71H459.5 M150.5 458.39H459.5 M150.5 452.76H459.5 M150.5 447.15H459.5 M150.5 441.56H459.5 M150.5 430.45H459.5 M150.5 424.93H459.5 M150.5 419.43H459.5 M150.5 413.95H459.5 M150.5 403.05H459.5 M150.5 397.63H459.5 M150.5 392.24H459.5 M150.5 386.86H459.5 M150.5 376.16H459.5 M150.5 370.84H459.5" stroke="#e4e4e4" stroke-width="0.6" stroke-dasharray="1 1" fill="none"/>
<path d="M150.5 581.98H459.5 M150.5 551.58H459.5 M150.5 521.8H459.5 M150.5 492.63H459.5 M150.5 464.04H459.5 M150.5 436H459.5 M150.5 408.49H459.5 M150.5 381.5H459.5 M238.8 367V607 M327.1 367V607 M415.4 367V607" stroke="#e2e2e2" stroke-width="0.8" fill="none"/>
<path d="M150.5 600.53h1.6 M459.5 600.53h-1.6 M150.5 594.32h1.6 M459.5 594.32h-1.6 M150.5 588.14h1.6 M459.5 588.14h-1.6 M150.5 581.98h3.2 M459.5 581.98h-3.2 M150.5 575.85h1.6 M459.5 575.85h-1.6 M150.5 569.74h1.6 M459.5 569.74h-1.6 M150.5 563.66h1.6 M459.5 563.66h-1.6 M150.5 557.61h1.6 M459.5 557.61h-1.6 M150.5 551.58h3.2 M459.5 551.58h-3.2 M150.5 545.57h1.6 M459.5 545.57h-1.6 M150.5 539.6h1.6 M459.5 539.6h-1.6 M150.5 533.64h1.6 M459.5 533.64h-1.6 M150.5 527.71h1.6 M459.5 527.71h-1.6 M150.5 521.8h3.2 M459.5 521.8h-3.2 M150.5 515.92h1.6 M459.5 515.92h-1.6 M150.5 510.06h1.6 M459.5 510.06h-1.6 M150.5 504.23h1.6 M459.5 504.23h-1.6 M150.5 498.42h1.6 M459.5 498.42h-1.6 M150.5 492.63h3.2 M459.5 492.63h-3.2 M150.5 486.87h1.6 M459.5 486.87h-1.6 M150.5 481.13h1.6 M459.5 481.13h-1.6 M150.5 475.41h1.6 M459.5 475.41h-1.6 M150.5 469.71h1.6 M459.5 469.71h-1.6 M150.5 464.04h3.2 M459.5 464.04h-3.2 M150.5 458.39h1.6 M459.5 458.39h-1.6 M150.5 452.76h1.6 M459.5 452.76h-1.6 M150.5 447.15h1.6 M459.5 447.15h-1.6 M150.5 441.56h1.6 M459.5 441.56h-1.6 M150.5 436h3.2 M459.5 436h-3.2 M150.5 430.45h1.6 M459.5 430.45h-1.6 M150.5 424.93h1.6 M459.5 424.93h-1.6 M150.5 419.43h1.6 M459.5 419.43h-1.6 M150.5 413.95h1.6 M459.5 413.95h-1.6 M150.5 408.49h3.2 M459.5 408.49h-3.2 M150.5 403.05h1.6 M459.5 403.05h-1.6 M150.5 397.63h1.6 M459.5 397.63h-1.6 M150.5 392.24h1.6 M459.5 392.24h-1.6 M150.5 386.86h1.6 M459.5 386.86h-1.6 M150.5 381.5h3.2 M459.5 381.5h-3.2 M150.5 376.16h1.6 M459.5 376.16h-1.6 M150.5 370.84h1.6 M459.5 370.84h-1.6 M238.8 607v-3.2 M238.8 367v3.2 M327.1 607v-3.2 M327.1 367v3.2 M415.4 607v-3.2 M415.4 367v3.2" stroke="#666" stroke-width="0.7" fill="none"/>
<rect x="150.5" y="367" width="309" height="240" fill="none" stroke="#666" stroke-width="0.85"/>
<clipPath id="bc"><rect x="150.5" y="366.5" width="309" height="241"/></clipPath>
<path clip-path="url(#bc)" d="M150.5 606.78 L150.7 606.78 L150.9 606.8 L151.09 606.82 L151.29 606.85 L151.49 606.88 L151.69 606.92 L151.89 606.95 L152.09 606.97 L152.28 606.99 L152.48 606.99 L152.68 606.98 L152.88 606.95 L153.08 606.91 L153.27 606.85 L153.47 606.78 L153.67 606.69 L153.87 606.6 L154.07 606.51 L154.26 606.41 L154.46 606.32 L154.66 606.23 L154.86 606.15 L155.06 606.08 L155.26 606.02 L155.45 605.97 L155.65 605.93 L155.85 605.9 L156.05 605.87 L156.25 605.85 L156.44 605.82 L156.64 605.79 L156.84 605.75 L157.04 605.69 L157.24 605.63 L157.44 605.54 L157.63 605.45 L157.83 605.33 L158.03 605.2 L158.23 605.06 L158.43 604.91 L158.62 604.75 L158.82 604.59 L159.02 604.43 L159.22 604.28 L159.42 604.13 L159.61 604 L159.81 603.87 L160.01 603.76 L160.21 603.66 L160.41 603.57 L160.61 603.48 L160.8 603.4 L161 603.32 L161.2 603.23 L161.4 603.14 L161.6 603.04 L161.79 602.92 L161.99 602.78 L162.19 602.63 L162.39 602.46 L162.59 602.27 L162.78 602.07 L162.98 601.86 L163.18 601.64 L163.38 601.41 L163.58 601.19 L163.78 600.97 L163.97 600.76 L164.17 600.56 L164.37 600.37 L164.57 600.2 L164.77 600.04 L164.96 599.89 L165.16 599.75 L165.36 599.61 L165.56 599.48 L165.76 599.34 L165.96 599.2 L166.15 599.05 L166.35 598.88 L166.55 598.69 L166.75 598.49 L166.95 598.27 L167.14 598.02 L167.34 597.77 L167.54 597.49 L167.74 597.21 L167.94 596.93 L168.13 596.64 L168.33 596.35 L168.53 596.08 L168.73 595.81 L168.93 595.56 L169.13 595.33 L169.32 595.11 L169.52 594.9 L169.72 594.71 L169.92 594.53 L170.12 594.34 L170.31 594.16 L170.51 593.98 L170.71 593.78 L170.91 593.57 L171.11 593.34 L171.31 593.09 L171.5 592.81 L171.7 592.52 L171.9 592.21 L172.1 591.88 L172.3 591.54 L172.49 591.19 L172.69 590.84 L172.89 590.49 L173.09 590.15 L173.29 589.82 L173.48 589.51 L173.68 589.22 L173.88 588.94 L174.08 588.68 L174.28 588.44 L174.48 588.21 L174.67 587.99 L174.87 587.76 L175.07 587.54 L175.27 587.3 L175.47 587.05 L175.66 586.78 L175.86 586.49 L176.06 586.17 L176.26 585.83 L176.46 585.47 L176.66 585.09 L176.85 584.69 L177.05 584.28 L177.25 583.87 L177.45 583.46 L177.65 583.06 L177.84 582.67 L178.04 582.29 L178.24 581.94 L178.44 581.61 L178.64 581.31 L178.83 581.02 L179.03 580.75 L179.23 580.48 L179.43 580.23 L179.63 579.97 L179.83 579.7 L180.02 579.42 L180.22 579.11 L180.42 578.79 L180.62 578.43 L180.82 578.05 L181.01 577.64 L181.21 577.21 L181.41 576.76 L181.61 576.29 L181.81 575.82 L182.01 575.35 L182.2 574.89 L182.4 574.44 L182.6 574.01 L182.8 573.61 L183 573.23 L183.19 572.87 L183.39 572.54 L183.59 572.23 L183.79 571.93 L183.99 571.64 L184.18 571.36 L184.38 571.06 L184.58 570.75 L184.78 570.42 L184.98 570.07 L185.18 569.68 L185.37 569.27 L185.57 568.82 L185.77 568.35 L185.97 567.85 L186.17 567.33 L186.36 566.81 L186.56 566.28 L186.76 565.76 L186.96 565.25 L187.16 564.77 L187.35 564.31 L187.55 563.88 L187.75 563.48 L187.95 563.11 L188.15 562.77 L188.35 562.44 L188.54 562.13 L188.74 561.82 L188.94 561.5 L189.14 561.17 L189.34 560.83 L189.53 560.45 L189.73 560.04 L189.93 559.6 L190.13 559.12 L190.33 558.61 L190.53 558.07 L190.72 557.51 L190.92 556.94 L191.12 556.36 L191.32 555.78 L191.52 555.22 L191.71 554.69 L191.91 554.18 L192.11 553.7 L192.31 553.26 L192.51 552.85 L192.7 552.47 L192.9 552.12 L193.1 551.79 L193.3 551.46 L193.5 551.13 L193.7 550.79 L193.89 550.43 L194.09 550.05 L194.29 549.62 L194.49 549.16 L194.69 548.66 L194.88 548.12 L195.08 547.55 L195.28 546.95 L195.48 546.33 L195.68 545.71 L195.88 545.08 L196.07 544.47 L196.27 543.89 L196.47 543.33 L196.67 542.81 L196.87 542.33 L197.06 541.89 L197.26 541.48 L197.46 541.11 L197.66 540.76 L197.86 540.42 L198.05 540.08 L198.25 539.74 L198.45 539.38 L198.65 538.98 L198.85 538.55 L199.05 538.08 L199.24 537.56 L199.44 537.01 L199.64 536.41 L199.84 535.78 L200.04 535.12 L200.23 534.46 L200.43 533.79 L200.63 533.14 L200.83 532.5 L201.03 531.9 L201.23 531.34 L201.42 530.83 L201.62 530.35 L201.82 529.92 L202.02 529.53 L202.22 529.17 L202.41 528.82 L202.61 528.48 L202.81 528.14 L203.01 527.78 L203.21 527.39 L203.4 526.96 L203.6 526.49 L203.8 525.97 L204 525.4 L204.2 524.78 L204.4 524.13 L204.59 523.45 L204.79 522.75 L204.99 522.04 L205.19 521.35 L205.39 520.67 L205.58 520.03 L205.78 519.43 L205.98 518.88 L206.18 518.38 L206.38 517.93 L206.57 517.52 L206.77 517.15 L206.97 516.8 L207.17 516.46 L207.37 516.13 L207.57 515.78 L207.76 515.4 L207.96 514.98 L208.16 514.51 L208.36 514 L208.56 513.43 L208.75 512.8 L208.95 512.14 L209.15 511.43 L209.35 510.71 L209.55 509.97 L209.75 509.24 L209.94 508.53 L210.14 507.86 L210.34 507.22 L210.54 506.64 L210.74 506.11 L210.93 505.64 L211.13 505.22 L211.33 504.84 L211.53 504.49 L211.73 504.17 L211.92 503.84 L212.12 503.51 L212.32 503.14 L212.52 502.74 L212.72 502.3 L212.92 501.79 L213.11 501.23 L213.31 500.61 L213.51 499.94 L213.71 499.22 L213.91 498.48 L214.1 497.72 L214.3 496.96 L214.5 496.22 L214.7 495.52 L214.9 494.85 L215.1 494.24 L215.29 493.69 L215.49 493.2 L215.69 492.76 L215.89 492.38 L216.09 492.04 L216.28 491.72 L216.48 491.42 L216.68 491.1 L216.88 490.76 L217.08 490.39 L217.27 489.97 L217.47 489.48 L217.67 488.94 L217.87 488.33 L218.07 487.66 L218.27 486.95 L218.46 486.19 L218.66 485.42 L218.86 484.64 L219.06 483.88 L219.26 483.14 L219.45 482.45 L219.65 481.82 L219.85 481.24 L220.05 480.74 L220.25 480.29 L220.45 479.91 L220.64 479.57 L220.84 479.27 L221.04 478.98 L221.24 478.7 L221.44 478.39 L221.63 478.05 L221.83 477.65 L222.03 477.2 L222.23 476.68 L222.43 476.1 L222.62 475.44 L222.82 474.74 L223.02 473.98 L223.22 473.2 L223.42 472.41 L223.62 471.63 L223.81 470.87 L224.01 470.16 L224.21 469.5 L224.41 468.91 L224.61 468.39 L224.8 467.94 L225 467.56 L225.2 467.23 L225.4 466.94 L225.6 466.68 L225.79 466.42 L225.99 466.15 L226.19 465.84 L226.39 465.49 L226.59 465.08 L226.79 464.59 L226.98 464.04 L227.18 463.41 L227.38 462.72 L227.58 461.97 L227.78 461.2 L227.97 460.4 L228.17 459.61 L228.37 458.83 L228.57 458.1 L228.77 457.43 L228.97 456.82 L229.16 456.29 L229.36 455.84 L229.56 455.45 L229.76 455.13 L229.96 454.86 L230.15 454.63 L230.35 454.4 L230.55 454.17 L230.75 453.91 L230.95 453.6 L231.14 453.23 L231.34 452.79 L231.54 452.27 L231.74 451.68 L231.94 451.01 L232.14 450.29 L232.33 449.52 L232.53 448.73 L232.73 447.93 L232.93 447.15 L233.13 446.41 L233.32 445.72 L233.52 445.1 L233.72 444.56 L233.92 444.1 L234.12 443.72 L234.32 443.41 L234.51 443.16 L234.71 442.95 L234.91 442.76 L235.11 442.57 L235.31 442.35 L235.5 442.1 L235.7 441.78 L235.9 441.39 L236.1 440.92 L236.3 440.37 L236.49 439.74 L236.69 439.04 L236.89 438.29 L237.09 437.51 L237.29 436.72 L237.49 435.94 L237.68 435.19 L237.88 434.49 L238.08 433.86 L238.28 433.31 L238.48 432.85 L238.67 432.47 L238.87 432.18 L239.07 431.94 L239.27 431.76 L239.47 431.61 L239.67 431.46 L239.86 431.29 L240.06 431.09 L240.26 430.83 L240.46 430.5 L240.66 430.08 L240.85 429.58 L241.05 429 L241.25 428.34 L241.45 427.62 L241.65 426.86 L241.84 426.08 L242.04 425.3 L242.24 424.55 L242.44 423.85 L242.64 423.22 L242.84 422.66 L243.03 422.2 L243.23 421.83 L243.43 421.54 L243.63 421.33 L243.83 421.17 L244.02 421.05 L244.22 420.95 L244.42 420.84 L244.62 420.69 L244.82 420.49 L245.02 420.22 L245.21 419.87 L245.41 419.43 L245.61 418.89 L245.81 418.28 L246.01 417.6 L246.2 416.87 L246.4 416.11 L246.6 415.34 L246.8 414.6 L247 413.9 L247.19 413.27 L247.39 412.71 L247.59 412.25 L247.79 411.88 L247.99 411.6 L248.19 411.41 L248.38 411.28 L248.58 411.2 L248.78 411.14 L248.98 411.08 L249.18 411 L249.37 410.86 L249.57 410.66 L249.77 410.37 L249.97 409.99 L250.17 409.52 L250.36 408.96 L250.56 408.32 L250.76 407.63 L250.96 406.9 L251.16 406.15 L251.36 405.42 L251.55 404.73 L251.75 404.1 L251.95 403.55 L252.15 403.09 L252.35 402.72 L252.54 402.46 L252.74 402.28 L252.94 402.18 L253.14 402.13 L253.34 402.12 L253.54 402.11 L253.73 402.09 L253.93 402.02 L254.13 401.89 L254.33 401.67 L254.53 401.36 L254.72 400.96 L254.92 400.46 L255.12 399.88 L255.32 399.23 L255.52 398.53 L255.71 397.82 L255.91 397.11 L256.11 396.43 L256.31 395.8 L256.51 395.26 L256.71 394.8 L256.9 394.44 L257.1 394.19 L257.3 394.03 L257.5 393.95 L257.7 393.94 L257.89 393.97 L258.09 394.01 L258.29 394.05 L258.49 394.05 L258.69 393.99 L258.89 393.85 L259.08 393.62 L259.28 393.28 L259.48 392.85 L259.68 392.33 L259.88 391.74 L260.07 391.09 L260.27 390.4 L260.47 389.72 L260.67 389.06 L260.87 388.45 L261.06 387.91 L261.26 387.46 L261.46 387.11 L261.66 386.87 L261.86 386.72 L262.06 386.67 L262.25 386.69 L262.45 386.76 L262.65 386.86 L262.85 386.95 L263.05 387.02 L263.24 387.03 L263.44 386.97 L263.64 386.82 L263.84 386.56 L264.04 386.2 L264.24 385.75 L264.43 385.22 L264.63 384.62 L264.83 383.98 L265.03 383.33 L265.23 382.69 L265.42 382.1 L265.62 381.57 L265.82 381.13 L266.02 380.79 L266.22 380.56 L266.41 380.43 L266.61 380.4 L266.81 380.45 L267.01 380.56 L267.21 380.71 L267.41 380.86 L267.6 381 L267.8 381.08 L268 381.1 L268.2 381.02 L268.4 380.85 L268.59 380.57 L268.79 380.19 L268.99 379.72 L269.19 379.18 L269.39 378.6 L269.58 377.98 L269.78 377.38 L269.98 376.81 L270.18 376.3 L270.38 375.87 L270.58 375.54 L270.77 375.32 L270.97 375.21 L271.17 375.2 L271.37 375.28 L271.57 375.42 L271.76 375.62 L271.96 375.83 L272.16 376.02 L272.36 376.18 L272.56 376.28 L272.76 376.28 L272.95 376.19 L273.15 376 L273.35 375.7 L273.55 375.3 L273.75 374.83 L273.94 374.3 L274.14 373.73 L274.34 373.17 L274.54 372.62 L274.74 372.14 L274.93 371.72 L275.13 371.41 L275.33 371.2 L275.53 371.1 L275.73 371.11 L275.93 371.21 L276.12 371.39 L276.32 371.63 L276.52 371.89 L276.72 372.15 L276.92 372.38 L277.11 372.55 L277.31 372.64 L277.51 372.64 L277.71 372.53 L277.91 372.31 L278.11 371.99 L278.3 371.59 L278.5 371.12 L278.7 370.61 L278.9 370.08 L279.1 369.58 L279.29 369.11 L279.49 368.72 L279.69 368.42 L279.89 368.22 L280.09 368.14 L280.28 368.16 L280.48 368.29 L280.68 368.5 L280.88 368.78 L281.08 369.09 L281.28 369.41 L281.47 369.7 L281.67 369.95 L281.87 370.12 L282.07 370.2 L282.27 370.18 L282.46 370.05 L282.66 369.81 L282.86 369.49 L283.06 369.08 L283.26 368.63 L283.46 368.16 L283.65 367.69 L283.85 367.26 L284.05 366.89 L284.25 366.61 L284.45 366.42 L284.64 366.35 L284.84 366.39 L285.04 366.54 L285.24 366.78 L285.44 367.09 L285.63 367.44 L285.83 367.82 L286.03 368.18 L286.23 368.5 L286.43 368.75 L286.63 368.92 L286.82 368.98 L287.02 368.94 L287.22 368.79 L287.42 368.54 L287.62 368.21 L287.81 367.82 L288.01 367.4 L288.21 366.98 L288.41 366.58 L288.61 366.24 L288.81 365.98 L289 365.81 L289.2 365.76 L289.4 365.81 L289.6 365.98 L289.8 366.24 L289.99 366.58 L290.19 366.98 L290.39 367.4 L290.59 367.82 L290.79 368.21 L290.98 368.54 L291.18 368.79 L291.38 368.94 L291.58 368.98 L291.78 368.92 L291.98 368.75 L292.17 368.5 L292.37 368.18 L292.57 367.82 L292.77 367.44 L292.97 367.09 L293.16 366.78 L293.36 366.54 L293.56 366.39 L293.76 366.35 L293.96 366.42 L294.15 366.61 L294.35 366.89 L294.55 367.26 L294.75 367.69 L294.95 368.16 L295.15 368.63 L295.34 369.08 L295.54 369.49 L295.74 369.81 L295.94 370.05 L296.14 370.18 L296.33 370.2 L296.53 370.12 L296.73 369.95 L296.93 369.7 L297.13 369.41 L297.33 369.09 L297.52 368.78 L297.72 368.5 L297.92 368.29 L298.12 368.16 L298.32 368.14 L298.51 368.22 L298.71 368.42 L298.91 368.72 L299.11 369.11 L299.31 369.58 L299.5 370.08 L299.7 370.61 L299.9 371.12 L300.1 371.59 L300.3 371.99 L300.5 372.31 L300.69 372.53 L300.89 372.64 L301.09 372.64 L301.29 372.55 L301.49 372.38 L301.68 372.15 L301.88 371.89 L302.08 371.63 L302.28 371.39 L302.48 371.21 L302.68 371.11 L302.87 371.1 L303.07 371.2 L303.27 371.41 L303.47 371.72 L303.67 372.14 L303.86 372.62 L304.06 373.17 L304.26 373.73 L304.46 374.3 L304.66 374.83 L304.85 375.3 L305.05 375.7 L305.25 376 L305.45 376.19 L305.65 376.28 L305.85 376.28 L306.04 376.18 L306.24 376.02 L306.44 375.83 L306.64 375.62 L306.84 375.42 L307.03 375.28 L307.23 375.2 L307.43 375.21 L307.63 375.32 L307.83 375.54 L308.03 375.87 L308.22 376.3 L308.42 376.81 L308.62 377.38 L308.82 377.98 L309.02 378.6 L309.21 379.18 L309.41 379.72 L309.61 380.19 L309.81 380.57 L310.01 380.85 L310.2 381.02 L310.4 381.1 L310.6 381.08 L310.8 381 L311 380.86 L311.2 380.71 L311.39 380.56 L311.59 380.45 L311.79 380.4 L311.99 380.43 L312.19 380.56 L312.38 380.79 L312.58 381.13 L312.78 381.57 L312.98 382.1 L313.18 382.69 L313.37 383.33 L313.57 383.98 L313.77 384.62 L313.97 385.22 L314.17 385.75 L314.37 386.2 L314.56 386.56 L314.76 386.82 L314.96 386.97 L315.16 387.03 L315.36 387.02 L315.55 386.95 L315.75 386.86 L315.95 386.76 L316.15 386.69 L316.35 386.67 L316.55 386.72 L316.74 386.87 L316.94 387.11 L317.14 387.46 L317.34 387.91 L317.54 388.45 L317.73 389.06 L317.93 389.72 L318.13 390.4 L318.33 391.09 L318.53 391.74 L318.72 392.33 L318.92 392.85 L319.12 393.28 L319.32 393.62 L319.52 393.85 L319.72 393.99 L319.91 394.05 L320.11 394.05 L320.31 394.01 L320.51 393.97 L320.71 393.94 L320.9 393.95 L321.1 394.03 L321.3 394.19 L321.5 394.44 L321.7 394.8 L321.9 395.26 L322.09 395.8 L322.29 396.43 L322.49 397.11 L322.69 397.82 L322.89 398.53 L323.08 399.23 L323.28 399.88 L323.48 400.46 L323.68 400.96 L323.88 401.36 L324.07 401.67 L324.27 401.89 L324.47 402.02 L324.67 402.09 L324.87 402.11 L325.07 402.12 L325.26 402.13 L325.46 402.18 L325.66 402.28 L325.86 402.46 L326.06 402.72 L326.25 403.09 L326.45 403.55 L326.65 404.1 L326.85 404.73 L327.05 405.42 L327.25 406.15 L327.44 406.9 L327.64 407.63 L327.84 408.32 L328.04 408.96 L328.24 409.52 L328.43 409.99 L328.63 410.37 L328.83 410.66 L329.03 410.86 L329.23 411 L329.42 411.08 L329.62 411.14 L329.82 411.2 L330.02 411.28 L330.22 411.41 L330.42 411.6 L330.61 411.88 L330.81 412.25 L331.01 412.71 L331.21 413.27 L331.41 413.9 L331.6 414.6 L331.8 415.34 L332 416.11 L332.2 416.87 L332.4 417.6 L332.6 418.28 L332.79 418.89 L332.99 419.43 L333.19 419.87 L333.39 420.22 L333.59 420.49 L333.78 420.69 L333.98 420.84 L334.18 420.95 L334.38 421.05 L334.58 421.17 L334.77 421.33 L334.97 421.54 L335.17 421.83 L335.37 422.2 L335.57 422.66 L335.77 423.22 L335.96 423.85 L336.16 424.55 L336.36 425.3 L336.56 426.08 L336.76 426.86 L336.95 427.62 L337.15 428.34 L337.35 429 L337.55 429.58 L337.75 430.08 L337.94 430.5 L338.14 430.83 L338.34 431.09 L338.54 431.29 L338.74 431.46 L338.94 431.61 L339.13 431.76 L339.33 431.94 L339.53 432.18 L339.73 432.47 L339.93 432.85 L340.12 433.31 L340.32 433.86 L340.52 434.49 L340.72 435.19 L340.92 435.94 L341.12 436.72 L341.31 437.51 L341.51 438.29 L341.71 439.04 L341.91 439.74 L342.11 440.37 L342.3 440.92 L342.5 441.39 L342.7 441.78 L342.9 442.1 L343.1 442.35 L343.29 442.57 L343.49 442.76 L343.69 442.95 L343.89 443.16 L344.09 443.41 L344.29 443.72 L344.48 444.1 L344.68 444.56 L344.88 445.1 L345.08 445.72 L345.28 446.41 L345.47 447.15 L345.67 447.93 L345.87 448.73 L346.07 449.52 L346.27 450.29 L346.47 451.01 L346.66 451.68 L346.86 452.27 L347.06 452.79 L347.26 453.23 L347.46 453.6 L347.65 453.91 L347.85 454.17 L348.05 454.4 L348.25 454.63 L348.45 454.86 L348.64 455.13 L348.84 455.45 L349.04 455.84 L349.24 456.29 L349.44 456.82 L349.64 457.43 L349.83 458.1 L350.03 458.83 L350.23 459.61 L350.43 460.4 L350.63 461.2 L350.82 461.97 L351.02 462.72 L351.22 463.41 L351.42 464.04 L351.62 464.59 L351.82 465.08 L352.01 465.49 L352.21 465.84 L352.41 466.15 L352.61 466.42 L352.81 466.68 L353 466.94 L353.2 467.23 L353.4 467.56 L353.6 467.94 L353.8 468.39 L353.99 468.91 L354.19 469.5 L354.39 470.16 L354.59 470.87 L354.79 471.63 L354.99 472.41 L355.18 473.2 L355.38 473.98 L355.58 474.74 L355.78 475.44 L355.98 476.1 L356.17 476.68 L356.37 477.2 L356.57 477.65 L356.77 478.05 L356.97 478.39 L357.16 478.7 L357.36 478.98 L357.56 479.27 L357.76 479.57 L357.96 479.91 L358.16 480.29 L358.35 480.74 L358.55 481.24 L358.75 481.82 L358.95 482.45 L359.15 483.14 L359.34 483.88 L359.54 484.64 L359.74 485.42 L359.94 486.19 L360.14 486.95 L360.34 487.66 L360.53 488.33 L360.73 488.94 L360.93 489.48 L361.13 489.97 L361.33 490.39 L361.52 490.76 L361.72 491.1 L361.92 491.42 L362.12 491.72 L362.32 492.04 L362.51 492.38 L362.71 492.76 L362.91 493.2 L363.11 493.69 L363.31 494.24 L363.51 494.85 L363.7 495.52 L363.9 496.22 L364.1 496.96 L364.3 497.72 L364.5 498.48 L364.69 499.22 L364.89 499.94 L365.09 500.61 L365.29 501.23 L365.49 501.79 L365.69 502.3 L365.88 502.74 L366.08 503.14 L366.28 503.51 L366.48 503.84 L366.68 504.17 L366.87 504.49 L367.07 504.84 L367.27 505.22 L367.47 505.64 L367.67 506.11 L367.86 506.64 L368.06 507.22 L368.26 507.86 L368.46 508.53 L368.66 509.24 L368.86 509.97 L369.05 510.71 L369.25 511.43 L369.45 512.14 L369.65 512.8 L369.85 513.43 L370.04 514 L370.24 514.51 L370.44 514.98 L370.64 515.4 L370.84 515.78 L371.04 516.13 L371.23 516.46 L371.43 516.8 L371.63 517.15 L371.83 517.52 L372.03 517.93 L372.22 518.38 L372.42 518.88 L372.62 519.43 L372.82 520.03 L373.02 520.67 L373.21 521.35 L373.41 522.04 L373.61 522.75 L373.81 523.45 L374.01 524.13 L374.21 524.78 L374.4 525.4 L374.6 525.97 L374.8 526.49 L375 526.96 L375.2 527.39 L375.39 527.78 L375.59 528.14 L375.79 528.48 L375.99 528.82 L376.19 529.17 L376.38 529.53 L376.58 529.92 L376.78 530.35 L376.98 530.83 L377.18 531.34 L377.38 531.9 L377.57 532.5 L377.77 533.14 L377.97 533.79 L378.17 534.46 L378.37 535.12 L378.56 535.78 L378.76 536.41 L378.96 537.01 L379.16 537.56 L379.36 538.08 L379.56 538.55 L379.75 538.98 L379.95 539.38 L380.15 539.74 L380.35 540.08 L380.55 540.42 L380.74 540.76 L380.94 541.11 L381.14 541.48 L381.34 541.89 L381.54 542.33 L381.73 542.81 L381.93 543.33 L382.13 543.89 L382.33 544.47 L382.53 545.08 L382.73 545.71 L382.92 546.33 L383.12 546.95 L383.32 547.55 L383.52 548.12 L383.72 548.66 L383.91 549.16 L384.11 549.62 L384.31 550.05 L384.51 550.43 L384.71 550.79 L384.91 551.13 L385.1 551.46 L385.3 551.79 L385.5 552.12 L385.7 552.47 L385.9 552.85 L386.09 553.26 L386.29 553.7 L386.49 554.18 L386.69 554.69 L386.89 555.22 L387.08 555.78 L387.28 556.36 L387.48 556.94 L387.68 557.51 L387.88 558.07 L388.08 558.61 L388.27 559.12 L388.47 559.6 L388.67 560.04 L388.87 560.45 L389.07 560.83 L389.26 561.17 L389.46 561.5 L389.66 561.82 L389.86 562.13 L390.06 562.44 L390.26 562.77 L390.45 563.11 L390.65 563.48 L390.85 563.88 L391.05 564.31 L391.25 564.77 L391.44 565.25 L391.64 565.76 L391.84 566.28 L392.04 566.81 L392.24 567.33 L392.43 567.85 L392.63 568.35 L392.83 568.82 L393.03 569.27 L393.23 569.68 L393.43 570.07 L393.62 570.42 L393.82 570.75 L394.02 571.06 L394.22 571.36 L394.42 571.64 L394.61 571.93 L394.81 572.23 L395.01 572.54 L395.21 572.87 L395.41 573.23 L395.61 573.61 L395.8 574.01 L396 574.44 L396.2 574.89 L396.4 575.35 L396.6 575.82 L396.79 576.29 L396.99 576.76 L397.19 577.21 L397.39 577.64 L397.59 578.05 L397.78 578.43 L397.98 578.79 L398.18 579.11 L398.38 579.42 L398.58 579.7 L398.78 579.97 L398.97 580.23 L399.17 580.48 L399.37 580.75 L399.57 581.02 L399.77 581.31 L399.96 581.61 L400.16 581.94 L400.36 582.29 L400.56 582.67 L400.76 583.06 L400.95 583.46 L401.15 583.87 L401.35 584.28 L401.55 584.69 L401.75 585.09 L401.95 585.47 L402.14 585.83 L402.34 586.17 L402.54 586.49 L402.74 586.78 L402.94 587.05 L403.13 587.3 L403.33 587.54 L403.53 587.76 L403.73 587.99 L403.93 588.21 L404.13 588.44 L404.32 588.68 L404.52 588.94 L404.72 589.22 L404.92 589.51 L405.12 589.82 L405.31 590.15 L405.51 590.49 L405.71 590.84 L405.91 591.19 L406.11 591.54 L406.3 591.88 L406.5 592.21 L406.7 592.52 L406.9 592.81 L407.1 593.09 L407.3 593.34 L407.49 593.57 L407.69 593.78 L407.89 593.98 L408.09 594.16 L408.29 594.34 L408.48 594.53 L408.68 594.71 L408.88 594.9 L409.08 595.11 L409.28 595.33 L409.48 595.56 L409.67 595.81 L409.87 596.08 L410.07 596.35 L410.27 596.64 L410.47 596.93 L410.66 597.21 L410.86 597.49 L411.06 597.77 L411.26 598.02 L411.46 598.27 L411.65 598.49 L411.85 598.69 L412.05 598.88 L412.25 599.05 L412.45 599.2 L412.65 599.34 L412.84 599.48 L413.04 599.61 L413.24 599.75 L413.44 599.89 L413.64 600.04 L413.83 600.2 L414.03 600.37 L414.23 600.56 L414.43 600.76 L414.63 600.97 L414.83 601.19 L415.02 601.41 L415.22 601.64 L415.42 601.86 L415.62 602.07 L415.82 602.27 L416.01 602.46 L416.21 602.63 L416.41 602.78 L416.61 602.92 L416.81 603.04 L417 603.14 L417.2 603.23 L417.4 603.32 L417.6 603.4 L417.8 603.48 L418 603.57 L418.19 603.66 L418.39 603.76 L418.59 603.87 L418.79 604 L418.99 604.13 L419.18 604.28 L419.38 604.43 L419.58 604.59 L419.78 604.75 L419.98 604.91 L420.17 605.06 L420.37 605.2 L420.57 605.33 L420.77 605.45 L420.97 605.54 L421.17 605.63 L421.36 605.69 L421.56 605.75 L421.76 605.79 L421.96 605.82 L422.16 605.85 L422.35 605.87 L422.55 605.9 L422.75 605.93 L422.95 605.97 L423.15 606.02 L423.35 606.08 L423.54 606.15 L423.74 606.23 L423.94 606.32 L424.14 606.41 L424.34 606.51 L424.53 606.6 L424.73 606.69 L424.93 606.78 L425.13 606.85 L425.33 606.91 L425.52 606.95 L425.72 606.98 L425.92 606.99 L426.12 606.99 L426.32 606.97 L426.52 606.95 L426.71 606.92 L426.91 606.88 L427.11 606.85 L427.31 606.82 L427.51 606.8 L427.7 606.78 L427.9 606.78" fill="none" stroke="#2222e6" stroke-width="1.25" stroke-linejoin="round"/>
<g font-family="'Liberation Serif', 'Noto Serif CJK SC', serif" font-size="16.0" fill="#1a1a1a">
<text x="110.6 119.6 128.6 137.6" y="587.18">2.35</text>
<text x="119.6 128.6 137.6" y="556.78">2.4</text>
<text x="110.6 119.6 128.6 137.6" y="527">2.45</text>
<text x="119.6 128.6 137.6" y="497.83">2.5</text>
<text x="110.6 119.6 128.6 137.6" y="469.24">2.55</text>
<text x="119.6 128.6 137.6" y="441.2">2.6</text>
<text x="110.6 119.6 128.6 137.6" y="413.69">2.65</text>
<text x="119.6 128.6 137.6" y="386.7">2.7</text>
<text x="150.5" y="627.4" text-anchor="middle">0</text>
<text x="238.8" y="627.4" text-anchor="middle">2</text>
<text x="327.1" y="627.4" text-anchor="middle">4</text>
<text x="415.4" y="627.4" text-anchor="middle">6</text>
<text x="152.2" y="363.4" font-size="18.5">×</text>
<text x="164.3 172.3" y="363.2">10</text>
<text x="181.4 188.1 193.9" y="354.4" font-size="12.6">−11</text>
</g>
<g font-family="'Liberation Serif', serif" font-size="17.3" fill="#000">
<text x="294.6" y="647.4" text-anchor="middle">Test horizontal coordinate (rad)</text>
<text transform="translate(102.2 484.5) rotate(-90)" text-anchor="middle">Error norm</text>
</g>
</g>
</svg>
</body></html>
